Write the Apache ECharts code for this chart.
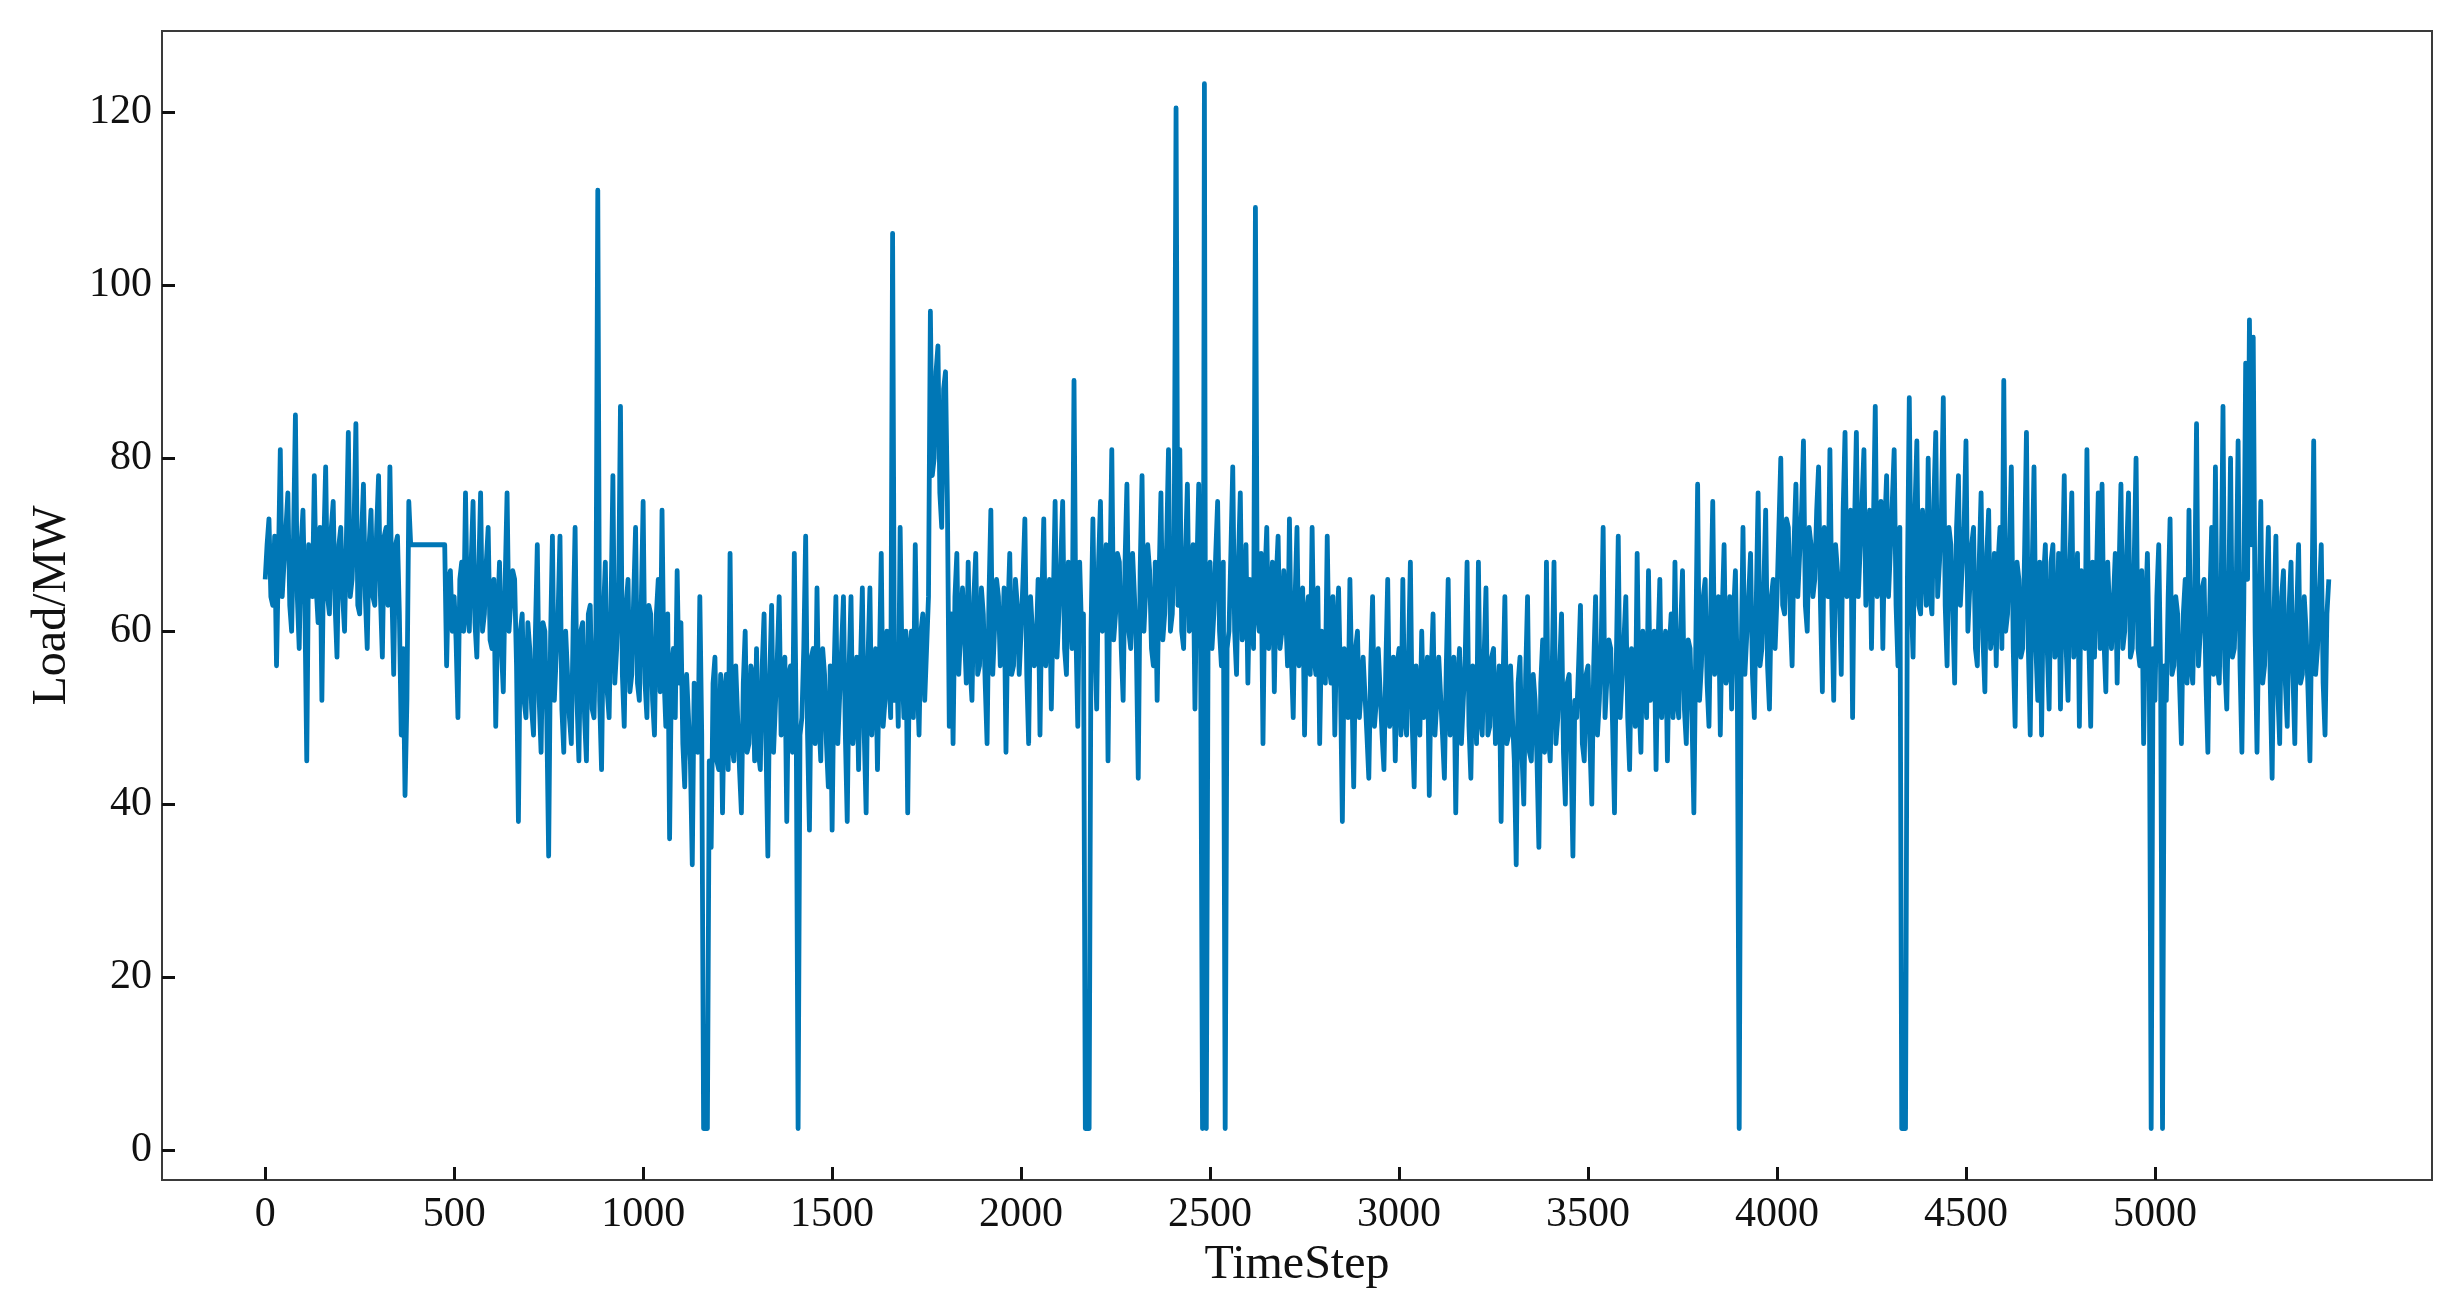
<!DOCTYPE html>
<html>
<head>
<meta charset="utf-8">
<title>Load / TimeStep</title>
<script src="https://cdn.jsdelivr.net/npm/echarts@6/dist/echarts.min.js"></script>
<style>
  html, body { margin: 0; padding: 0; background: #fff; }
  #chart { width: 2460px; height: 1311px; }
</style>
</head>
<body>
<div id="chart"></div>
<script>
// one value every `timeStepSize` steps (rows = 100 steps)
const timeStepSize = 5

const loadValues = [
  66, 70, 73, 64, 63, 71, 56, 68, 81, 64, 64, 72, 76, 63, 60, 71, 85, 64, 58, 70,
  74, 63, 45, 70, 70, 64, 78, 65, 61, 72, 52, 70, 79, 64, 62, 72, 75, 63, 57, 70,
  72, 64, 60, 71, 83, 64, 66, 72, 84, 63, 62, 71, 77, 64, 58, 70, 74, 64, 63, 72,
  78, 64, 57, 71, 72, 63, 79, 65, 55, 70, 71, 62, 48, 58, 41, 52, 75, 70, 70, 70,
  70, 70, 70, 70, 70, 70, 70, 70, 70, 70, 70, 70, 70, 70, 70, 70, 56, 66, 67, 60,
  64, 59, 50, 66, 68, 60, 76, 62, 60, 68, 75, 61, 57, 67, 76, 60, 62, 68, 72, 59,
  58, 66, 49, 62, 68, 58, 53, 66, 76, 60, 60, 67, 66, 56, 38, 60, 62, 52, 50, 61,
  58, 51, 48, 60, 70, 52, 46, 61, 60, 50, 34, 59, 71, 52, 52, 62, 71, 51, 46, 60,
  60, 50, 47, 61, 72, 52, 45, 60, 61, 50, 45, 62, 63, 51, 50, 60, 111, 52, 44, 62,
  68, 53, 50, 63, 78, 54, 58, 64, 86, 55, 49, 63, 66, 53, 55, 64, 72, 54, 52, 63,
  75, 54, 50, 63, 62, 52, 48, 62, 66, 53, 74, 55, 49, 62, 36, 56, 58, 50, 67, 54,
  61, 47, 42, 55, 55, 45, 33, 54, 52, 46, 64, 48, 2.5, 2.5, 2.5, 45, 35, 54, 57, 45,
  44, 55, 39, 53, 55, 44, 69, 47, 45, 56, 56, 44, 39, 54, 60, 46, 47, 56, 55, 45,
  58, 46, 44, 56, 62, 47, 34, 55, 63, 46, 46, 57, 64, 48, 48, 57, 38, 55, 56, 46,
  69, 50, 2.5, 48, 50, 58, 71, 48, 37, 57, 58, 47, 65, 50, 45, 58, 55, 47, 42, 56,
  37, 55, 64, 47, 47, 58, 64, 48, 38, 56, 64, 47, 50, 57, 44, 56, 65, 48, 39, 57,
  65, 48, 48, 58, 44, 56, 69, 49, 52, 60, 60, 50, 106, 52, 58, 49, 72, 56, 50, 60,
  39, 58, 60, 50, 70, 55, 48, 60, 62, 52, 52, 64, 97, 78, 80, 90, 93, 76, 72, 88,
  90, 75, 49, 62, 47, 64, 69, 55, 55, 65, 60, 54, 68, 56, 52, 64, 69, 55, 56, 65,
  62, 54, 47, 64, 74, 55, 55, 66, 64, 56, 58, 65, 46, 62, 69, 55, 56, 66, 63, 55,
  60, 66, 73, 55, 47, 64, 64, 56, 58, 66, 48, 64, 73, 56, 60, 66, 51, 63, 75, 57,
  62, 68, 75, 58, 55, 68, 68, 58, 89, 60, 49, 68, 60, 62, 2.5, 2.5, 2.5, 60, 73, 59,
  51, 68, 75, 60, 60, 70, 45, 66, 81, 59, 62, 69, 68, 58, 52, 68, 77, 60, 58, 69,
  64, 58, 43, 67, 78, 60, 60, 70, 67, 58, 56, 68, 52, 66, 76, 59, 62, 70, 81, 60,
  62, 70, 120.5, 63, 81, 60, 58, 69, 77, 60, 62, 70, 51, 67, 77, 58, 2.5, 123.3, 2.5, 62,
  68, 58, 62, 69, 75, 60, 56, 68, 2.5, 58, 60, 69, 79, 60, 55, 68, 76, 59, 60, 70,
  54, 66, 64, 58, 109, 62, 60, 69, 47, 66, 72, 58, 58, 68, 53, 66, 71, 58, 60, 67,
  62, 56, 73, 57, 50, 64, 72, 56, 56, 65, 48, 62, 64, 55, 72, 57, 55, 65, 47, 60,
  60, 54, 71, 56, 54, 64, 48, 60, 65, 54, 38, 58, 55, 50, 66, 54, 42, 58, 60, 50,
  50, 57, 57, 48, 43, 56, 64, 49, 52, 58, 58, 48, 44, 56, 66, 49, 50, 57, 45, 56,
  58, 48, 66, 50, 48, 57, 68, 49, 42, 56, 56, 48, 60, 50, 50, 57, 41, 55, 62, 48,
  52, 57, 57, 48, 43, 56, 66, 48, 48, 57, 39, 54, 58, 47, 52, 57, 68, 49, 43, 56,
  55, 47, 68, 50, 48, 57, 65, 48, 49, 57, 58, 47, 52, 56, 38, 54, 64, 47, 48, 56,
  50, 45, 33, 54, 57, 46, 40, 55, 64, 46, 45, 55, 52, 45, 35, 54, 59, 46, 68, 48,
  45, 55, 68, 47, 50, 56, 62, 46, 40, 54, 55, 46, 34, 52, 50, 56, 63, 47, 45, 55,
  56, 47, 40, 56, 64, 48, 52, 59, 72, 50, 50, 59, 58, 49, 39, 57, 71, 50, 50, 59,
  64, 50, 44, 58, 58, 49, 69, 52, 46, 60, 60, 50, 67, 52, 52, 60, 44, 58, 66, 50,
  55, 60, 45, 58, 62, 50, 68, 52, 50, 60, 67, 51, 47, 59, 58, 50, 39, 58, 77, 52,
  56, 64, 66, 54, 49, 63, 75, 55, 60, 64, 48, 62, 70, 54, 55, 64, 51, 62, 67, 54,
  2.5, 56, 72, 55, 55, 64, 69, 55, 50, 63, 76, 56, 58, 65, 74, 56, 51, 64, 66, 58,
  64, 72, 80, 63, 62, 73, 72, 62, 56, 70, 77, 64, 64, 74, 82, 63, 60, 72, 70, 64,
  66, 74, 79, 63, 53, 72, 72, 64, 81, 63, 52, 70, 70, 64, 55, 74, 83, 64, 66, 74,
  50, 72, 83, 64, 64, 75, 81, 63, 68, 74, 58, 72, 86, 64, 66, 75, 58, 72, 78, 64,
  64, 75, 81, 63, 56, 72, 2.5, 2.5, 2.5, 66, 87, 64, 57, 74, 82, 63, 62, 74, 74, 63,
  80, 64, 62, 75, 83, 64, 68, 74, 87, 63, 56, 72, 70, 62, 54, 72, 78, 63, 63, 72,
  82, 60, 60, 70, 72, 58, 56, 68, 76, 59, 53, 69, 74, 58, 60, 69, 56, 68, 72, 58,
  89, 60, 62, 69, 79, 58, 49, 68, 66, 57, 58, 69, 83, 58, 48, 67, 79, 58, 52, 68,
  48, 66, 70, 58, 51, 68, 70, 57, 58, 69, 51, 66, 78, 58, 52, 68, 76, 57, 60, 69,
  49, 67, 64, 58, 81, 59, 49, 68, 57, 66, 76, 58, 77, 59, 53, 68, 62, 58, 58, 69,
  54, 67, 77, 58, 60, 69, 76, 57, 58, 68, 80, 58, 56, 67, 47, 62, 69, 56, 2.5, 58,
  52, 64, 70, 55, 2.5, 56, 52, 64, 73, 55, 56, 64, 62, 54, 47, 62, 66, 54, 74, 56,
  54, 64, 84, 56, 60, 65, 66, 54, 46, 63, 72, 55, 79, 56, 54, 64, 86, 56, 51, 64,
  80, 57, 58, 65, 82, 56, 46, 63, 91, 66, 96, 70, 94, 60, 46, 62, 75, 54, 56, 64,
  72, 54, 43, 62, 71, 53, 47, 64, 67, 54, 49, 63, 68, 55, 47, 62, 70, 54, 55, 64,
  60, 53, 45, 62, 82, 55, 58, 64, 70, 54, 48, 62, 66
]

const xTicks = [0, 500, 1000, 1500, 2000, 2500, 3000, 3500, 4000, 4500, 5000]
const yTicks = [0, 20, 40, 60, 80, 100, 120]

const lineColor = '#0077b6'
const fontFamily = '"Liberation Serif", "DejaVu Serif", serif'

const seriesData = loadValues.map((v, i) => [i * timeStepSize, v])

const chart = echarts.init(document.getElementById('chart'))

chart.setOption({
  animation: false,
  backgroundColor: '#fff',
  grid: {
    left: 162, right: 28, top: 31, bottom: 131,
    show: true, borderColor: '#3a3a3a', borderWidth: 2,
    containLabel: false,
  },
  xAxis: {
    type: 'value',
    min: -273,
    max: 5733,
    name: 'TimeStep',
    nameLocation: 'middle',
    nameGap: 56,
    nameTextStyle: { fontFamily, fontSize: 48, color: '#111' },
    axisLine: { show: true, onZero: false, lineStyle: { color: '#3a3a3a', width: 2 } },
    axisTick: { show: true, inside: true, length: 13, customValues: xTicks, lineStyle: { color: '#111', width: 3 } },
    axisLabel: {
      customValues: xTicks, fontFamily, fontSize: 42, color: '#111', margin: 14,
      formatter: (v) => String(v),
    },
    splitLine: { show: false },
  },
  yAxis: {
    type: 'value',
    min: -3.45,
    max: 129.4,
    name: 'Load/MW',
    nameLocation: 'middle',
    nameGap: 86,
    nameRotate: 90,
    nameTextStyle: { fontFamily, fontSize: 48, color: '#111' },
    axisLine: { show: true, onZero: false, lineStyle: { color: '#3a3a3a', width: 2 } },
    axisTick: { show: true, inside: true, length: 13, customValues: yTicks, lineStyle: { color: '#111', width: 3 } },
    axisLabel: {
      customValues: yTicks, fontFamily, fontSize: 42, color: '#111', margin: 10,
      formatter: (v) => String(v),
    },
    splitLine: { show: false },
  },
  series: [
    {
      name: 'Load',
      type: 'line',
      data: seriesData,
      showSymbol: false,
      symbol: 'none',
      sampling: null,
      lineStyle: { color: lineColor, width: 4.8, join: 'round', cap: 'butt' },
      emphasis: { disabled: true },
    },
  ],
})
</script>
</body>
</html>
